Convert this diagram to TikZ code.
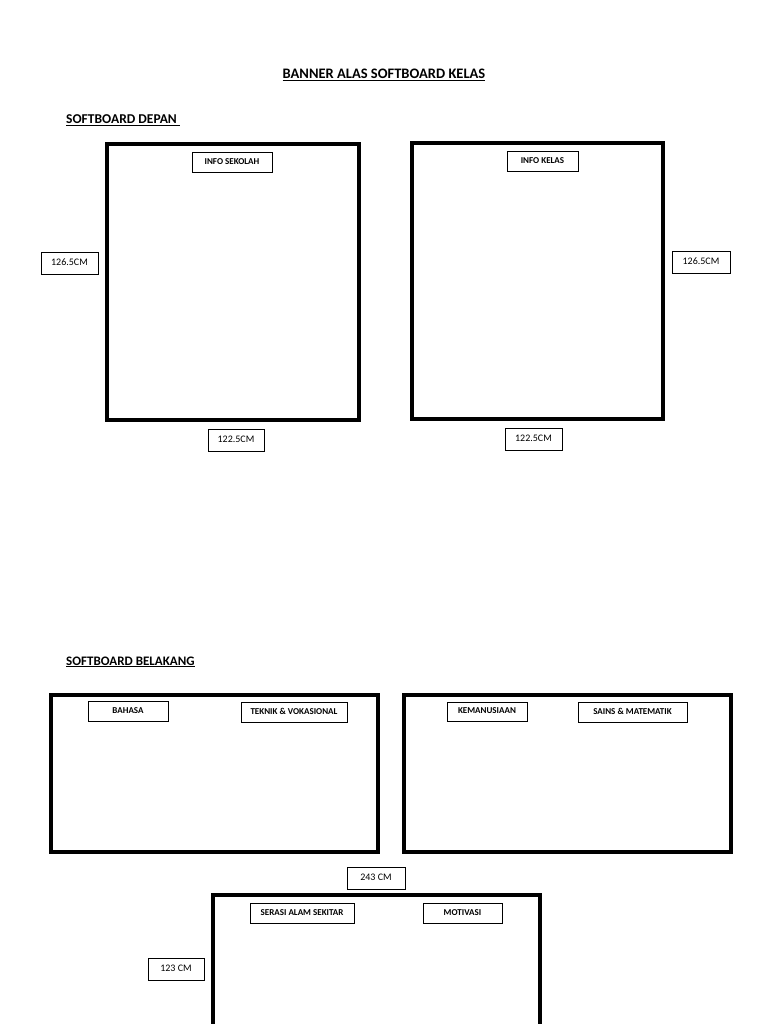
\documentclass[tikz,border=0pt]{standalone}
\usepackage{fontspec}
\setmainfont{Carlito}
\begin{document}
\begin{tikzpicture}[x=1pt,y=-1pt,
  board/.style={draw=black, line width=4pt, inner sep=0pt, outer sep=0pt, fill=none},
  lab/.style={draw=black, line width=0.8pt, inner sep=0pt, outer sep=0pt, font=\fontsize{9}{10}\selectfont\bfseries, align=center, text height=7pt, text depth=2.5pt},
  dim/.style={draw=black, line width=0.8pt, inner sep=0pt, outer sep=0pt, font=\fontsize{10}{11}\selectfont, align=center, text height=7.5pt, text depth=2.5pt},
  head/.style={inner sep=0pt, font=\fontsize{13.5}{15}\selectfont\bfseries, anchor=base west}]
\useasboundingbox (0,0) rectangle (768,1024);
\clip (0,0) rectangle (768,1024);
% titles
\node[head, anchor=base, font=\fontsize{14.5}{16}\selectfont\bfseries] (title) at (384,79) {\underline{BANNER ALAS SOFTBOARD KELAS}};
\node[head] (depan) at (66,124) {\underline{SOFTBOARD DEPAN\ }};
\node[head, font=\fontsize{13}{15}\selectfont\bfseries] (belakang) at (66,665) {\underline{SOFTBOARD BELAKANG}};
% front boards
\node[board, minimum width=252, minimum height=276] (b1) at (233,282) {};
\node[board, minimum width=251, minimum height=276] (b2) at (537.5,281) {};
\node[lab, minimum width=80, minimum height=20] (infosek) at (232,162) {INFO SEKOLAH};
\node[lab, minimum width=71, minimum height=20] (infokel) at (542.5,161) {INFO KELAS};
\node[dim, minimum width=57, minimum height=22] (h1) at (69.5,263) {126.5CM};
\node[dim, minimum width=58, minimum height=22] (h2) at (701,262) {126.5CM};
\node[dim, minimum width=56, minimum height=22] (w1) at (236,440) {122.5CM};
\node[dim, minimum width=57, minimum height=22] (w2) at (533.5,439) {122.5CM};
% back boards
\node[board, minimum width=327, minimum height=157] (b3) at (214.5,773.5) {};
\node[board, minimum width=327, minimum height=157] (b4) at (567.5,773.5) {};
\node[lab, minimum width=80, minimum height=20] (bahasa) at (128,711) {BAHASA};
\node[lab, minimum width=106, minimum height=20] (teknik) at (294,712) {TEKNIK \& VOKASIONAL};
\node[lab, minimum width=80, minimum height=19] (kemanusiaan) at (487,711.5) {KEMANUSIAAN};
\node[lab, minimum width=109, minimum height=20] (sains) at (632.5,712) {SAINS \& MATEMATIK};
\node[dim, minimum width=58, minimum height=22] (w3) at (376,878) {243 CM};
\node[board, minimum width=327, minimum height=157] (b5) at (376.5,973.5) {};
\node[lab, minimum width=104, minimum height=20] (serasi) at (302,913) {SERASI ALAM SEKITAR};
\node[lab, minimum width=79, minimum height=20] (motivasi) at (462.5,913) {MOTIVASI};
\node[dim, minimum width=56, minimum height=22] (h3) at (176,969) {123 CM};
\end{tikzpicture}
\end{document}
